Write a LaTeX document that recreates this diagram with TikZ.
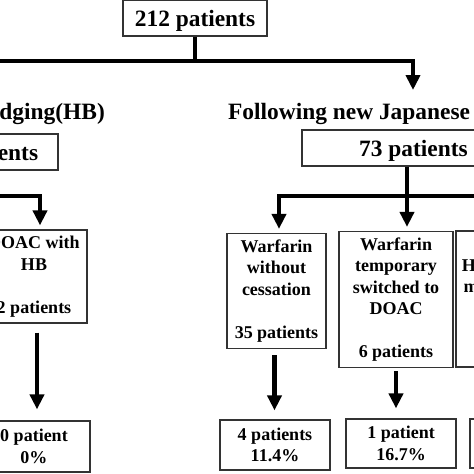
\documentclass[tikz,border=0pt]{standalone}
\usepackage{fontspec}
\setmainfont{Liberation Serif}
\usetikzlibrary{arrows.meta}
\begin{document}
\begin{tikzpicture}[x=1pt,y=-1pt,
  box/.style={draw=black!80,line width=1.2pt,inner sep=0pt,align=center,font=\bfseries\fontsize{18}{21.5}\selectfont},
  bigbox/.style={draw=black!80,line width=1.2pt,inner sep=0pt,text depth=0pt,font=\bfseries\fontsize{23.4}{26}\selectfont},
  lbl/.style={inner sep=0pt,font=\bfseries\fontsize{23.4}{26}\selectfont},
  conn/.style={line width=4.5pt},
  hconn/.style={line width=4.5pt,line cap=rect},
  arr/.style={line width=4.5pt,-{Triangle[width=14pt,length=15pt]}}]
\useasboundingbox (0,0) rectangle (474,474);
\clip (0,0) rectangle (474,474);
% boxes and labels
\node[bigbox,minimum width=144pt,minimum height=36pt] (top) at (195,18) {212 patients};
\node[lbl,anchor=base east] (hbl) at (105,119) {Heparin bridging(HB)};
\node[lbl,anchor=base west] (jpl) at (228,119) {Following new Japanese guideline};
\node[bigbox,minimum width=160pt,minimum height=36pt] (hb) at (-22,152) {139 patients};
\node[bigbox,minimum width=223pt,minimum height=36pt] (jp) at (413.5,148) {73 patients};
\node[box,minimum width=106pt,minimum height=93pt] (dh) at (34,276.5) {DOAC with\\HB\\[21.5pt]2 patients};
\node[box,minimum width=99pt,minimum height=115pt] (ww) at (276.5,291) {Warfarin\\without\\cessation\\[21.5pt]35 patients};
\node[box,minimum width=114pt,minimum height=136pt] (wt) at (396,299.5) {Warfarin\\temporary\\switched to\\DOAC\\[21.5pt]6 patients};
\node[box,minimum width=114pt,minimum height=136pt] (wr) at (513,299) {Warfarin\\Heparin with\\management\\DOAC\\[21.5pt]patients};
\node[box,minimum width=112pt,minimum height=51pt] (r0) at (34,446.5) {0 patient\\0\%};
\node[box,minimum width=110pt,minimum height=50pt] (r1) at (275,445) {4 patients\\11.4\%};
\node[box,minimum width=110pt,minimum height=49pt] (r2) at (401,443.5) {1 patient\\16.7\%};
\node[box,minimum width=110pt,minimum height=49pt] (r3) at (525,443.5) {};
% coordinates
\coordinate (j0) at (195,61);
\coordinate (hl) at (-10,61);
\coordinate (hr) at (413,61);
\coordinate (tj) at (413,90);
\coordinate (lb) at (40,196);
\coordinate (rb) at (407,196);
\coordinate (rl) at (279,196);
\coordinate (rr) at (520,196);
% connectors
\draw[conn] (top.south) -- (j0);
\draw[arr] (hl) -- (hr) -- (tj);
\draw[arr,shorten >=4pt] (hb.south) |- (lb) -- (lb |- dh.north);
\draw[conn] (rb |- jp.south) -- (rb);
\draw[hconn] (rl) -- (rr);
\draw[arr,shorten >=4pt] (rl) -- (rl |- ww.north);
\draw[arr,shorten >=4pt] (rb) -- (rb |- wt.north);
\draw[arr,shorten >=4pt] (rr) -- (rr |- wr.north);
\draw[arr,shorten <=9pt,shorten >=11pt] ([xshift=3pt]dh.south) -- ([xshift=3pt]dh.south |- r0.north);
\draw[arr,shorten <=6pt,shorten >=9pt] ([xshift=-2pt]ww.south) -- ([xshift=-2pt]ww.south |- r1.north);
\draw[arr,shorten <=3pt,shorten >=10pt] (wt.south) -- (wt.south |- r2.north);
\end{tikzpicture}
\end{document}
